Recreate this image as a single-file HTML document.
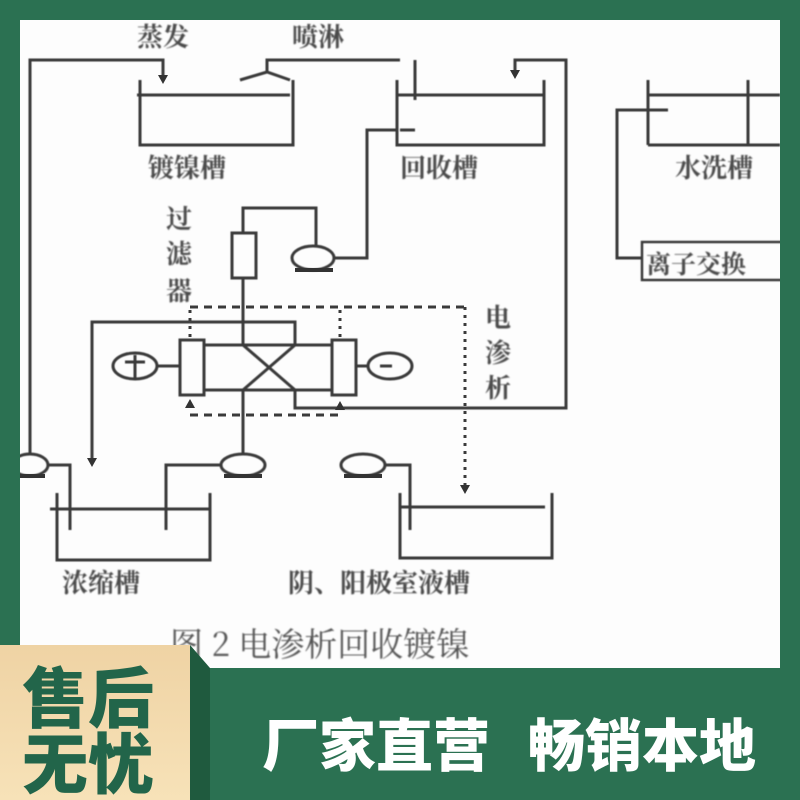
<!DOCTYPE html>
<html><head><meta charset="utf-8"><style>
body{margin:0;width:800px;height:800px;overflow:hidden;background:#2b7152;font-family:"Liberation Serif","Noto Serif CJK SC",serif}
.s{position:absolute;left:0;top:0}
</style></head><body>
<svg class="s" width="800" height="800" viewBox="0 0 800 800">
<defs>
<clipPath id="c"><rect x="20" y="20" width="760" height="648"/></clipPath>
<linearGradient id="g" x1="0" y1="0" x2="0" y2="1"><stop offset="0" stop-color="#efd3a4"/><stop offset="1" stop-color="#f7e2b8"/></linearGradient>
</defs>
<rect x="0" y="0" width="800" height="800" fill="#2b7152"/>
<rect x="20" y="20" width="760" height="648" fill="#fdfdfd"/>
<g clip-path="url(#c)">
<g stroke="#3a3a3a" stroke-width="3" fill="none" style="filter:blur(0.6px)">
<polyline points="30,455 30,60 163,60 163,78"/>
<polyline points="140,80 140,145 293,145 293,80"/>
<line x1="137" y1="95" x2="290" y2="95"/>
<polyline points="240,80 267,72 290,80"/>
<polyline points="267,72 267,60 400,60"/>
<line x1="415" y1="60" x2="415" y2="100"/>
<polyline points="397,80 397,145 544,145 544,80"/>
<line x1="397" y1="95" x2="544" y2="95"/>
<line x1="400" y1="130" x2="415" y2="130"/>
<polyline points="515,72 515,60 566,60 566,408 295,408 295,390"/>
<polyline points="397,130 367,130 367,258 335,258"/>
<ellipse cx="313" cy="258" rx="21" ry="12"/>
<polyline points="316,246 316,208 243,208 243,233"/>
<rect x="232" y="233" width="24" height="45"/>
<line x1="243" y1="278" x2="243" y2="345"/>
<line x1="648" y1="80" x2="648" y2="145"/>
<line x1="748" y1="80" x2="748" y2="145"/>
<line x1="648" y1="145" x2="780" y2="145"/>
<line x1="648" y1="95" x2="780" y2="95"/>
<polyline points="668,110 617,110 617,258 642,258"/>
<rect x="642" y="242" width="145" height="38" stroke-width="2.5"/>
<polyline points="92,460 92,322 295,322 295,345"/>
<rect x="180" y="340" width="24" height="55"/>
<rect x="332" y="340" width="24" height="55"/>
<line x1="204" y1="345" x2="332" y2="345"/>
<line x1="204" y1="390" x2="332" y2="390"/>
<line x1="243" y1="345" x2="295" y2="390"/>
<line x1="295" y1="345" x2="243" y2="390"/>
<ellipse cx="135" cy="366" rx="22" ry="13"/>
<line x1="135" y1="355" x2="135" y2="378"/><line x1="125" y1="362" x2="145" y2="362"/>
<line x1="157" y1="366" x2="180" y2="366"/>
<ellipse cx="390" cy="366" rx="22" ry="13"/>
<line x1="380" y1="366" x2="392" y2="366"/>
<line x1="356" y1="366" x2="368" y2="366"/>
<line x1="243" y1="390" x2="243" y2="455"/>
<ellipse cx="243" cy="465" rx="22" ry="11"/>
<ellipse cx="30" cy="465" rx="18" ry="11"/>
<ellipse cx="363" cy="465" rx="22" ry="11"/>
<polyline points="48,465 70,465 70,530"/>
<polyline points="221,465 166,465 166,530"/>
<polyline points="385,465 410,465 410,530"/>
<polyline points="57,493 57,560 210,560 210,493"/>
<line x1="50" y1="509" x2="210" y2="509"/>
<polyline points="400,493 400,558 552,558 552,493"/>
<line x1="400" y1="507" x2="545" y2="507"/>
</g>
<g stroke="#3a3a3a" stroke-width="3" fill="none" stroke-dasharray="8,6">
<line x1="190" y1="307" x2="465" y2="307"/>
<line x1="190" y1="415" x2="340" y2="415"/>
</g>
<g stroke="#3a3a3a" stroke-width="3" fill="none" stroke-dasharray="3,5">
<line x1="465" y1="307" x2="465" y2="485"/>
<line x1="190" y1="310" x2="190" y2="340"/>
<line x1="340" y1="310" x2="340" y2="340"/>
</g>
<g fill="#333">
<polygon points="158,75 168,75 163,84"/>
<polygon points="510,70 520,70 515,79"/>
<polygon points="87,458 97,458 92,467"/>
<polygon points="460,485 470,485 465,494"/>
<polygon points="185,408 195,408 190,399"/>
<polygon points="335,410 345,410 340,401"/>
<rect x="224" y="474" width="38" height="4"/><rect x="344" y="474" width="38" height="4"/><rect x="20" y="474" width="25" height="4"/><rect x="295" y="268" width="38" height="4"/>
</g>
<g fill="#4a4a4a" font-size="26" font-weight="bold" style="filter:blur(0.7px)" font-family="'Noto Serif CJK SC','Noto Sans CJK SC',serif">
<text x="137" y="46">蒸发</text>
<text x="292" y="46">喷淋</text>
<text x="148" y="177">镀镍槽</text>
<text x="400" y="177">回收槽</text>
<text x="675" y="177">水洗槽</text>
<text x="646" y="273" font-size="25">离子交换</text>
<text x="166" y="228">过</text><text x="166" y="263">滤</text><text x="166" y="300">器</text>
<text x="485" y="327">电</text><text x="485" y="362">渗</text><text x="485" y="397">析</text>
<text x="62" y="592">浓缩槽</text>
<text x="288" y="592">阴、阳极室液槽</text>
<text x="170" y="656" font-size="33" font-weight="normal" fill="#555">图 2  电渗析回收镀镍</text>
</g>
</g>
<rect x="0" y="668" width="800" height="132" fill="#2b7152"/>
<polygon points="190,645 210,668 210,800 190,800" fill="#1f5a3e"/>
<rect x="0" y="645" width="190" height="155" fill="url(#g)"/>
<g font-family="'Noto Sans CJK SC',sans-serif" font-weight="900">
<text x="88" y="722" font-size="66" fill="#22654a" text-anchor="middle">售后</text>
<text x="88" y="788" font-size="66" fill="#22654a" text-anchor="middle">无忧</text>
<text x="262" y="766" font-size="57" fill="#fff">厂家直营</text>
<text x="756" y="766" font-size="57" fill="#fff" text-anchor="end">畅销本地</text>
</g>
</svg>
</body></html>
